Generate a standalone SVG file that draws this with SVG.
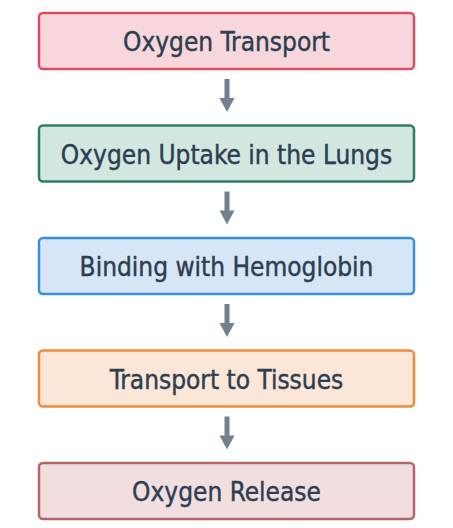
<svg xmlns="http://www.w3.org/2000/svg" width="453" height="528" viewBox="0 0 453 528">
<style>
.n rect{stroke-width:2.5}
.n text{font-family:"DejaVu Sans Condensed","Roboto","Liberation Sans",sans-serif;font-size:26px;fill:#2c3e50;stroke:#2c3e50;stroke-width:0.4;text-anchor:middle;dominant-baseline:central}
.c line{stroke:#708090;stroke-width:5}
.c path{fill:#708090}
</style>
<rect width="453" height="528" fill="#ffffff"/>
<g id="n1" class="n"><rect x="39" y="13" width="375" height="56" rx="4" fill="#f8d7dc" stroke="#dc4b5f"/><text x="226.5" y="42">Oxygen Transport</text></g>
<g id="n2" class="n"><rect x="39" y="125.5" width="375" height="56" rx="4" fill="#d3e7e1" stroke="#2f7d67"/><text x="226.5" y="154.5">Oxygen Uptake in the Lungs</text></g>
<g id="n3" class="n"><rect x="39" y="238" width="375" height="56" rx="4" fill="#d7e6f6" stroke="#3a8ee0"/><text x="226.5" y="267">Binding with Hemoglobin</text></g>
<g id="n4" class="n"><rect x="39" y="350.5" width="375" height="56" rx="4" fill="#fbe6d8" stroke="#f08a3c"/><text x="226.5" y="379.5">Transport to Tissues</text></g>
<g id="n5" class="n"><rect x="39" y="463" width="375" height="56" rx="4" fill="#f1dfe0" stroke="#b46565"/><text x="226.5" y="492">Oxygen Release</text></g>
<g id="connectors" class="c">
<line x1="227" y1="79" x2="227" y2="100"/><path d="M219.5,98 L234.5,98 L227,112 Z"/>
<line x1="227" y1="191.5" x2="227" y2="212.5"/><path d="M219.5,210.5 L234.5,210.5 L227,224.5 Z"/>
<line x1="227" y1="304" x2="227" y2="325"/><path d="M219.5,323 L234.5,323 L227,337 Z"/>
<line x1="227" y1="416.5" x2="227" y2="437.5"/><path d="M219.5,435.5 L234.5,435.5 L227,449.5 Z"/>
</g>
</svg>
